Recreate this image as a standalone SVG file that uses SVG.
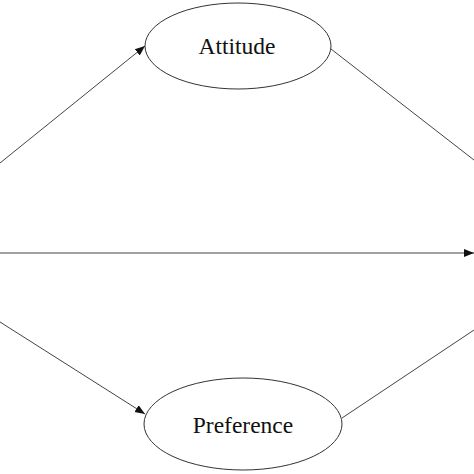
<svg xmlns="http://www.w3.org/2000/svg" width="474" height="474" viewBox="0 0 474 474">
<style>
.node ellipse{fill:#fff;stroke:#333;stroke-width:1}
.node text{font-family:"Liberation Serif",serif;font-size:23.5px;fill:#111;text-anchor:middle}
#connectors line{stroke:#444;stroke-width:1}
</style>
<defs>
<marker id="ah" viewBox="0 0 10 10" refX="10" refY="5" markerWidth="10" markerHeight="10" markerUnits="userSpaceOnUse" orient="auto">
<path d="M0,1 L10,5 L0,9 Z" fill="#111"/>
</marker>
</defs>
<rect width="474" height="474" fill="#fff"/>
<g id="connectors">
<line x1="0" y1="163" x2="145" y2="46" marker-end="url(#ah)"/>
<line x1="331" y1="49" x2="474" y2="160"/>
<line x1="0" y1="253" x2="474" y2="253" marker-end="url(#ah)"/>
<line x1="0" y1="322" x2="145" y2="414" marker-end="url(#ah)"/>
<line x1="342" y1="418" x2="474" y2="330"/>
</g>
<g id="attitude" class="node">
<ellipse cx="238" cy="46" rx="93" ry="43"/>
<text x="237" y="54">Attitude</text>
</g>
<g id="preference" class="node">
<ellipse cx="243" cy="424" rx="99" ry="46"/>
<text x="243" y="433">Preference</text>
</g>
</svg>
